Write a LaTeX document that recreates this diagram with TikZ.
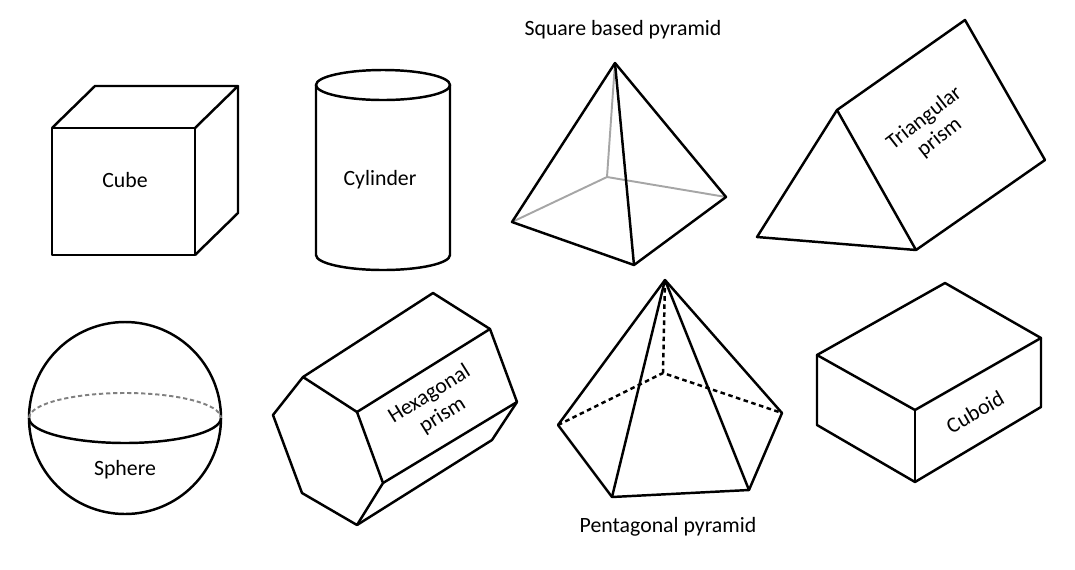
\documentclass[tikz,border=0pt]{standalone}
\usepackage{fontspec}
\setmainfont{Carlito}
\begin{document}
\begin{tikzpicture}[
    x=0.01cm, y=-0.01cm,
    edge/.style={line width=0.7pt, line join=round},
    hidden/.style={gray!70, line width=0.55pt},
    dashedge/.style={line width=0.7pt, dash pattern=on 1.3pt off 1pt},
    lbl/.style={font=\fontsize{6.2}{7}\selectfont, align=center}
]
    \useasboundingbox (0,0) rectangle (1075,569);
    % Cube
    \draw[edge] (52,128) rectangle (195,255);
    \draw[edge] (52,128) -- (95,86) -- (238,86) -- (195,128);
    \draw[edge] (238,86) -- (238,213) -- (195,255);
    \node[lbl] (cube) at (125,180) {Cube};
    % Cylinder
    \draw[edge] (383,85) ellipse (67 and 15);
    \draw[edge] (316,85) -- (316,255) arc (180:0:67 and 15) -- (450,85);
    \node[lbl] (cyl) at (380,180) {Cylinder};
    % Square based pyramid
    \draw[hidden] (615,63) -- (607,177) (512,222) -- (607,177) -- (726,197);
    \draw[edge] (512,222) -- (615,63) -- (726,197) -- (634,265) -- cycle;
    \draw[edge] (615,63) -- (634,265);
    \node[lbl] (sqp) at (623,30) {Square based pyramid};
    % Triangular prism
    \draw[edge] (837,110) -- (757,237) -- (916,250) -- cycle;
    \draw[edge] (837,110) -- (965,20) -- (1045,160) -- (916,250);
    \node[lbl, rotate=38] (tri) at (932,128) {Triangular\\prism};
    % Sphere
    \draw[edge] (125,418) circle (96);
    \draw[gray, line width=0.55pt, dash pattern=on 1.2pt off 0.8pt] (29,418) arc (180:360:96 and 25);
    \draw[edge] (29,418) arc (180:0:96 and 25);
    \node[lbl] (sph) at (125,470) {Sphere};
    % Hexagonal prism
    \draw[edge] (303,377) -- (357,412) -- (383,483) -- (357,525) -- (302,493) -- (273,415) -- cycle;
    \draw[edge] (303,377) -- (433,293) -- (490,329) -- (357,412);
    \draw[edge] (490,329) -- (517,402) -- (383,483);
    \draw[edge] (517,402) -- (492,440) -- (357,525);
    \node[lbl, rotate=32] (hex) at (436,405) {Hexagonal\\prism};
    % Pentagonal pyramid
    \draw[dashedge] (665,280) -- (663,373) (558,425) -- (663,373) -- (782,413);
    \draw[edge] (665,280) -- (558,425) -- (612,497) -- (749,490) -- (782,413) -- cycle;
    \draw[edge] (665,280) -- (612,497) (665,280) -- (749,490);
    \node[lbl] (pent) at (668,527) {Pentagonal pyramid};
    % Cuboid
    \draw[edge] (817,355) -- (945,283) -- (1041,338) -- (915,410) -- cycle;
    \draw[edge] (817,355) -- (817,425) -- (915,482) -- (1041,407) -- (1041,338);
    \draw[edge] (915,410) -- (915,482);
    \node[lbl, rotate=30] (cub) at (975,412) {Cuboid};
\end{tikzpicture}
\end{document}
